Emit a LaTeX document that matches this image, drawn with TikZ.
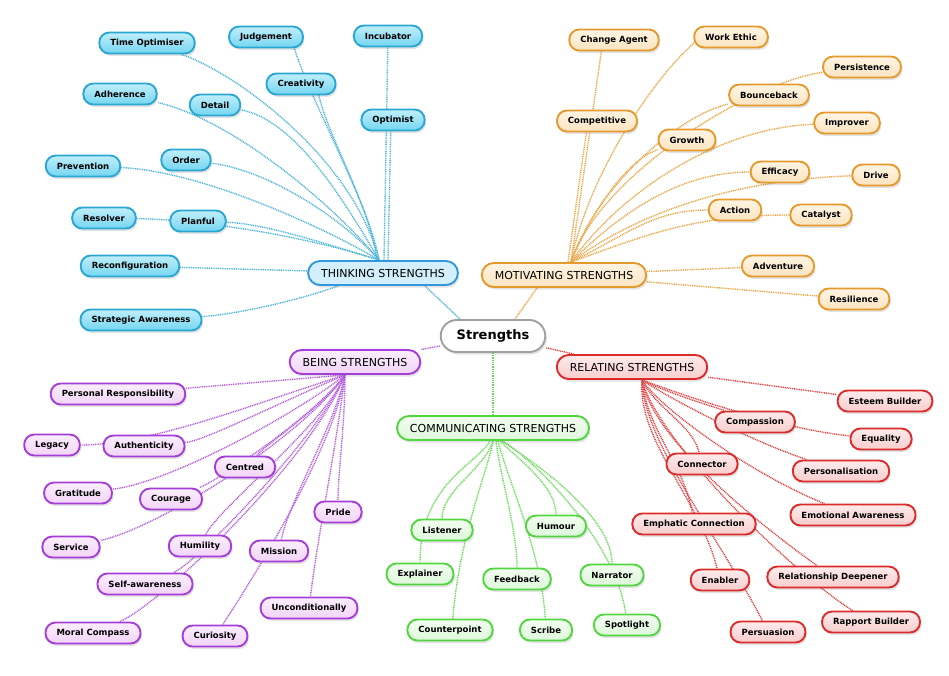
\documentclass[tikz,border=0pt]{standalone}
\usepackage{fontspec}
\setmainfont{DejaVu Sans}
\usepackage{xcolor}
\usepackage{tikz}
\usetikzlibrary{calc,shadows,backgrounds}

\definecolor{thinkB}{HTML}{2AA6D2}
\definecolor{thinkF}{HTML}{74D6F0}
\definecolor{thinkL}{HTML}{C0EEFA}
\definecolor{thinkHB}{HTML}{3397DD}
\definecolor{thinkHF}{HTML}{D2EFFB}
\definecolor{motB}{HTML}{E69A2E}
\definecolor{motF}{HTML}{FBE4C0}
\definecolor{motL}{HTML}{FFF5E4}
\definecolor{beB}{HTML}{A53ED8}
\definecolor{beF}{HTML}{F2D4F7}
\definecolor{beL}{HTML}{FBEEFD}
\definecolor{comB}{HTML}{52D640}
\definecolor{comF}{HTML}{DDF8DA}
\definecolor{comL}{HTML}{F2FDF1}
\definecolor{relB}{HTML}{DC2B2B}
\definecolor{relF}{HTML}{F9CDCD}
\definecolor{relL}{HTML}{FDEBEB}

\begin{document}
\begin{tikzpicture}[x=1pt, y=-1pt,
  base/.style={rounded corners=10pt, line width=1.9pt, minimum height=21pt, inner xsep=11pt, inner ysep=1pt,
    drop shadow={opacity=0.22, shadow xshift=1.5pt, shadow yshift=-2.5pt}},
  leaf/.style={base, font=\fontsize{8.5}{10}\selectfont\bfseries},
  hub/.style={base, minimum height=24pt, rounded corners=12pt, inner xsep=13pt, font=\fontsize{11}{12}\selectfont},
  tleaf/.style={leaf, draw=thinkB, top color=thinkL, bottom color=thinkF},
  mleaf/.style={leaf, draw=motB, top color=motL, bottom color=motF},
  bleaf/.style={leaf, draw=beB, top color=beL, bottom color=beF},
  cleaf/.style={leaf, draw=comB, top color=comL, bottom color=comF},
  rleaf/.style={leaf, draw=relB, top color=relL, bottom color=relF},
  ln/.style={line width=1.4pt, dash pattern=on 1pt off 0.8pt},
  tln/.style={ln, thinkB!85},
  mln/.style={ln, motB!90},
  bln/.style={ln, beB!85},
  cln/.style={ln, comB!90},
  rln/.style={ln, relB!90}]
\useasboundingbox (0,0) rectangle (949,675);

\node[base, minimum height=32pt, rounded corners=16pt, inner xsep=16pt, draw=gray!75, fill=white,
  font=\fontsize{13}{15}\selectfont\bfseries] (str) at (493,336) {Strengths};

\node[hub, draw=thinkHB, fill=thinkHF] (think) at (383,273) {THINKING STRENGTHS};
\node[tleaf] (topt) at (147,43) {Time Optimiser};
\node[tleaf] (judge) at (266,37) {Judgement};
\node[tleaf] (incub) at (388,36) {Incubator};
\node[tleaf] (creat) at (301,84) {Creativity};
\node[tleaf] (adher) at (120,94) {Adherence};
\node[tleaf] (detail) at (215,105) {Detail};
\node[tleaf] (optim) at (393,120) {Optimist};
\node[tleaf] (prev) at (83,166) {Prevention};
\node[tleaf] (order) at (186,160) {Order};
\node[tleaf] (resol) at (104,218) {Resolver};
\node[tleaf] (planf) at (198,221) {Planful};
\node[tleaf] (reconf) at (130,266) {Reconfiguration};
\node[tleaf] (strat) at (141,320) {Strategic Awareness};

\node[hub, draw=motB, top color=motL, bottom color=motF] (motiv) at (564,275) {MOTIVATING STRENGTHS};
\node[mleaf] (change) at (614,40) {Change Agent};
\node[mleaf] (wethic) at (731,37) {Work Ethic};
\node[mleaf] (persist) at (862,67) {Persistence};
\node[mleaf] (bounce) at (769,95) {Bounceback};
\node[mleaf] (improv) at (847,123) {Improver};
\node[mleaf] (compet) at (597,121) {Competitive};
\node[mleaf] (growth) at (687,140) {Growth};
\node[mleaf] (effic) at (780,172) {Efficacy};
\node[mleaf] (drive) at (876,175) {Drive};
\node[mleaf] (action) at (735,210) {Action};
\node[mleaf] (catal) at (821,215) {Catalyst};
\node[mleaf] (advent) at (778,266) {Adventure};
\node[mleaf] (resil) at (854,299) {Resilience};

\node[hub, draw=beB, top color=beL, bottom color=beF] (being) at (355,362) {BEING STRENGTHS};
\node[bleaf] (presp) at (118,394) {Personal Responsibility};
\node[bleaf] (legacy) at (52,445) {Legacy};
\node[bleaf] (authen) at (144,446) {Authenticity};
\node[bleaf] (centred) at (245,467) {Centred};
\node[bleaf] (gratit) at (78,493) {Gratitude};
\node[bleaf] (courage) at (171,499) {Courage};
\node[bleaf] (pride) at (338,512) {Pride};
\node[bleaf] (service) at (71,547) {Service};
\node[bleaf] (humil) at (200,546) {Humility};
\node[bleaf] (mission) at (279,551) {Mission};
\node[bleaf] (selfaw) at (145,584) {Self-awareness};
\node[bleaf] (uncond) at (309,608) {Unconditionally};
\node[bleaf] (moral) at (93,633) {Moral Compass};
\node[bleaf] (curios) at (215,636) {Curiosity};

\node[hub, draw=comB, top color=comL, bottom color=comF] (comm) at (493,428) {COMMUNICATING STRENGTHS};
\node[cleaf] (listen) at (442,530) {Listener};
\node[cleaf] (humour) at (556,526) {Humour};
\node[cleaf] (explain) at (420,574) {Explainer};
\node[cleaf] (feedb) at (517,579) {Feedback};
\node[cleaf] (narr) at (612,575) {Narrator};
\node[cleaf] (counter) at (450,630) {Counterpoint};
\node[cleaf] (scribe) at (546,630) {Scribe};
\node[cleaf] (spot) at (627,625) {Spotlight};

\node[hub, draw=relB, top color=relL, bottom color=relF] (relat) at (632,367) {RELATING STRENGTHS};
\node[rleaf] (esteem) at (885,401) {Esteem Builder};
\node[rleaf] (compas) at (755,422) {Compassion};
\node[rleaf] (equal) at (881,439) {Equality};
\node[rleaf] (connect) at (702,464) {Connector};
\node[rleaf] (person) at (841,471) {Personalisation};
\node[rleaf] (emoaw) at (853,515) {Emotional Awareness};
\node[rleaf] (emph) at (694,524) {Emphatic Connection};
\node[rleaf] (enabl) at (720,580) {Enabler};
\node[rleaf] (reldeep) at (833,577) {Relationship Deepener};
\node[rleaf] (rapport) at (871,622) {Rapport Builder};
\node[rleaf] (persua) at (768,632) {Persuasion};

\coordinate (tf) at ($(think.north)+(-4,0)$);
\coordinate (mf) at ($(motiv.north)+(7,0)$);
\coordinate (bf) at ($(being.south)+(-10,0)$);
\coordinate (cf) at (comm.south);
\coordinate (rf) at ($(relat.south)+(10,0)$);

\begin{scope}[on background layer]
\draw[tln] (tf) .. controls +(-25,-100) and +(90,30) .. (topt);
\draw[tln] (tf) .. controls +(-10,-60) and +(5,40) .. ([xshift=26pt]judge.center);
\draw[tln] ([xshift=-2pt]tf) .. controls +(-8,-60) and +(3,40) .. ([xshift=16pt]creat.center);
\draw[tln] ([xshift=5pt]tf) -- (incub);
\draw[tln] ([xshift=9pt]tf) -- ([xshift=-2pt]optim.center);
\draw[tln] (tf) .. controls +(-50,-60) and +(110,25) .. (adher);
\draw[tln] (tf) .. controls +(-35,-60) and +(80,15) .. (detail);
\draw[tln] (tf) .. controls +(-50,-30) and +(120,5) .. (prev);
\draw[tln] (tf) .. controls +(-40,-45) and +(80,10) .. (order);
\draw[tln] (tf) .. controls +(-60,-20) and +(110,2) .. (resol);
\draw[tln] (tf) .. controls +(-50,-15) and +(70,3) .. (planf);
\draw[tln] (think) -- (reconf);
\draw[tln] ([xshift=-45pt]think.south) .. controls +(-40,15) and +(90,-5) .. (strat);
\draw[tln] ([xshift=42pt]think.south) -- ([xshift=-33pt]str.north);

\draw[mln] (mf) -- ([xshift=-11pt]change.center);
\draw[mln] ([xshift=-3pt]mf) -- ([xshift=-9pt]compet.center);
\draw[mln] (mf) .. controls +(15,-80) and +(-50,40) .. ([xshift=-30pt]wethic.center);
\draw[mln] (mf) .. controls +(29,-88) and +(-110,15) .. (persist);
\draw[mln] (mf) .. controls +(25,-75) and +(-90,20) .. (bounce);
\draw[mln] (mf) .. controls +(20,-50) and +(-60,20) .. (growth);
\draw[mln] (mf) .. controls +(50,-70) and +(-130,5) .. (improv);
\draw[mln] (mf) .. controls +(50,-50) and +(-100,0) .. (effic);
\draw[mln] (mf) .. controls +(60,-45) and +(-150,5) .. (drive);
\draw[mln] (mf) .. controls +(60,-30) and +(-80,0) .. (action);
\draw[mln] (mf) .. controls +(70,-25) and +(-130,0) .. (catal);
\draw[mln] (motiv) -- (advent);
\draw[mln] (motiv) -- (resil);
\draw[mln] ([xshift=-27pt]motiv.south) -- ([xshift=22pt]str.north);

\draw[bln] (bf) -- (presp);
\draw[bln] (bf) .. controls +(-80,25) and +(100,0) .. (legacy);
\draw[bln] (bf) .. controls +(-60,25) and +(60,-5) .. (authen);
\draw[bln] (bf) .. controls +(-50,40) and +(90,-10) .. (gratit);
\draw[bln] (bf) .. controls +(-20,30) and +(30,-30) .. (centred);
\draw[bln] (bf) .. controls +(-30,40) and +(50,-20) .. (courage);
\draw[bln] (bf) .. controls +(-40,60) and +(90,-20) .. (service);
\draw[bln] (bf) .. controls +(-20,50) and +(20,-40) .. (humil);
\draw[bln] (bf) .. controls +(-25,60) and +(50,-20) .. (selfaw);
\draw[bln] (bf) .. controls +(-30,80) and +(70,-30) .. (moral);
\draw[bln] (bf) .. controls +(-10,50) and +(10,-50) .. (mission);
\draw[bln] (bf) .. controls +(-10,70) and +(40,-60) .. (curios);
\draw[bln] (bf) .. controls +(-10,80) and +(10,-80) .. (uncond);
\draw[bln] (bf) .. controls +(0,50) and +(0,-40) .. (pride);
\draw[bln] (being) -- (str);

\draw[cln] (str) -- (comm);
\draw[cln] (cf) .. controls +(-10,30) and +(0,-40) .. (listen);
\draw[cln] ([xshift=-3pt]cf) .. controls +(-15,25) and +(0,-90) .. (explain);
\draw[cln] (cf) .. controls +(-5,30) and +(5,-90) .. ([xshift=2pt]counter.center);
\draw[cln] ([xshift=3pt]cf) .. controls +(5,40) and +(0,-50) .. (feedb);
\draw[cln] ([xshift=5pt]cf) .. controls +(10,40) and +(-5,-80) .. (scribe);
\draw[cln] ([xshift=7pt]cf) .. controls +(20,20) and +(0,-40) .. (humour);
\draw[cln] ([xshift=9pt]cf) .. controls +(30,20) and +(0,-60) .. (narr);
\draw[cln] ([xshift=9pt]cf) .. controls +(35,20) and +(-10,-80) .. (spot);

\draw[rln] (str) -- (relat);
\draw[rln] (relat) -- (esteem);
\draw[rln] (rf) .. controls +(30,15) and +(-40,-15) .. (compas);
\draw[rln] (rf) .. controls +(40,15) and +(-100,-10) .. (equal);
\draw[rln] (rf) .. controls +(30,20) and +(-90,-30) .. (person);
\draw[rln] (rf) .. controls +(15,30) and +(-10,-40) .. (connect);
\draw[rln] (rf) .. controls +(20,30) and +(-100,-40) .. (emoaw);
\draw[rln] (rf) .. controls +(5,50) and +(-10,-60) .. (emph);
\draw[rln] (rf) .. controls +(-5,60) and +(-20,-80) .. (enabl);
\draw[rln] (rf) .. controls +(0,60) and +(-40,-80) .. (persua);
\draw[rln] (rf) .. controls +(10,60) and +(-70,-50) .. (reldeep);
\draw[rln] (rf) .. controls +(15,60) and +(-80,-50) .. (rapport);
\end{scope}
\end{tikzpicture}
\end{document}
